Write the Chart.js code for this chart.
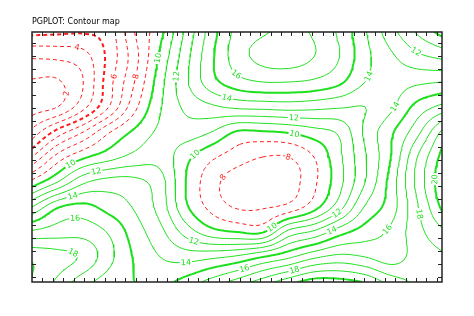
<!DOCTYPE html>
<html><head><meta charset="utf-8">
<script src="https://cdn.jsdelivr.net/npm/chart.js@4.4.1/dist/chart.umd.min.js"></script>
<style>html,body{margin:0;padding:0;background:#fff}</style>
</head><body>
<canvas id="c" width="474" height="316"></canvas>
<script>
// ---- data (estimated field values on a 17 x 11 grid, rows from top to bottom) ----
const chartTitle = 'PGPLOT: Contour map';
const row0  = [5.3, 5.2, 5.1, 5.5, 8.0, 9.7, 12.2, 14.5, 16.3, 16.9, 17.1, 16.9, 15.8, 14.1, 12.4, 10.9, 9.6];
const row1  = [3.1, 3.2, 3.6, 5.3, 7.6, 10.2, 12.6, 14.8, 16.5, 17.3, 17.5, 17.0, 16.0, 14.3, 13.2, 12.3, 11.8];
const row2  = [1.9, 1.9, 3.0, 5.6, 8.0, 10.6, 12.8, 14.6, 15.6, 16.0, 16.0, 15.8, 15.2, 14.0, 13.6, 13.8, 14.0];
const row3  = [1.6, 2.0, 3.7, 6.0, 8.7, 10.9, 12.2, 12.8, 13.2, 13.3, 13.4, 13.3, 13.1, 13.0, 13.8, 15.3, 16.3];
const row4  = [3.3, 5.4, 7.0, 8.9, 10.2, 11.2, 11.5, 11.0, 9.9, 9.9, 10.1, 10.6, 11.2, 13.2, 14.8, 16.6, 19.2];
const row5  = [6.0, 8.4, 9.8, 10.6, 11.3, 11.6, 10.3, 9.2, 8.5, 8.0, 8.0, 9.0, 10.8, 12.9, 15.0, 17.9, 20.3];
const row6  = [9.3, 11.0, 12.8, 13.4, 13.3, 12.4, 10.0, 8.4, 7.5, 7.3, 7.5, 8.8, 10.7, 13.0, 15.4, 18.2, 20.7];
const row7  = [13.0, 14.9, 15.3, 14.6, 13.9, 12.6, 10.2, 8.7, 7.9, 7.9, 8.3, 9.6, 11.6, 14.1, 15.5, 17.8, 20.2];
const row8  = [16.2, 16.5, 16.6, 15.9, 14.5, 13.3, 11.6, 10.4, 10.0, 9.9, 12.3, 13.2, 14.6, 15.5, 16.2, 17.6, 18.8];
const row9  = [18.8, 18.4, 17.8, 16.3, 14.9, 14.0, 13.6, 13.8, 14.2, 15.0, 15.8, 16.8, 17.3, 17.0, 16.5, 17.4, 17.8];
const row10 = [19.0, 17.8, 16.4, 15.5, 15.0, 14.7, 15.4, 16.4, 17.4, 18.5, 19.6, 20.5, 20.4, 19.9, 18.6, 17.8, 17.2];
const contourLevels = [1, 2, 3, 4, 5, 6, 7, 8, 9, 10, 11, 12, 13, 14, 15, 16, 17, 18, 19, 20, 21];
const labelledLevels = [2, 4, 6, 8, 10, 12, 14, 16, 18, 20];
const boldLevels = [5, 10, 15, 20];
const xTicks = [1,2,3,4,5,6,7,8,9,10,11,12,13,14,15,16,17,18,19,20,21,22,23,24,25,26,27,28,29,30,31,32,33,34,35,36,37,38,39];
const yTicks = [0,1,2,3,4,5,6,7,8,9,10,11,12,13,14,15,16,17,18];
const xRange = [0, 39.5];
const yRange = [-0.36, 18.87];

// ---- contouring ----
const rows = [row0,row1,row2,row3,row4,row5,row6,row7,row8,row9,row10];
const NX = row0.length, NY = rows.length, UP = 8;
function g(i, j) {
  if (i < 0) return 2*g(0,j) - g(1,j);
  if (i > NX-1) return 2*g(NX-1,j) - g(NX-2,j);
  if (j < 0) return 2*g(i,0) - g(i,1);
  if (j > NY-1) return 2*g(i,NY-1) - g(i,NY-2);
  return rows[j][i];
}
function cr(p0,p1,p2,p3,t){return 0.5*((2*p1)+(-p0+p2)*t+(2*p0-5*p1+4*p2-p3)*t*t+(-p0+3*p1-3*p2+p3)*t*t*t);}
function sample(u, v) {
  let i = Math.min(Math.floor(u), NX-2), j = Math.min(Math.floor(v), NY-2);
  const tu = u - i, tv = v - j;
  const col = [];
  for (let dj=-1; dj<=2; dj++) col.push(cr(g(i-1,j+dj),g(i,j+dj),g(i+1,j+dj),g(i+2,j+dj),tu));
  return cr(col[0],col[1],col[2],col[3],tv);
}
const FW = (NX-1)*UP+1, FH = (NY-1)*UP+1;
const F = [];
for (let b=0;b<FH;b++){ const r=[]; for(let a=0;a<FW;a++) r.push(sample(a/UP,b/UP)); F.push(r); }
const toX = a => xRange[0] + (xRange[1]-xRange[0]) * a/(FW-1);
const toY = b => yRange[1] - (yRange[1]-yRange[0]) * b/(FH-1);

function contour(lev) {
  const segs = [], map = new Map();
  const add = (e1,e2) => { const id=segs.length; segs.push([e1,e2]); for (const e of [e1,e2]) { if(!map.has(e.k)) map.set(e.k,[]); map.get(e.k).push(id);} };
  for (let b=0;b<FH-1;b++) for (let a=0;a<FW-1;a++) {
    const v0=F[b][a], v1=F[b][a+1], v2=F[b+1][a+1], v3=F[b+1][a];
    const idx=(v0>lev?8:0)|(v1>lev?4:0)|(v2>lev?2:0)|(v3>lev?1:0);
    if (idx===0||idx===15) continue;
    const T={k:'h'+a+','+b, a:a+(lev-v0)/(v1-v0), b:b};
    const R={k:'v'+(a+1)+','+b, a:a+1, b:b+(lev-v1)/(v2-v1)};
    const B={k:'h'+a+','+(b+1), a:a+(lev-v3)/(v2-v3), b:b+1};
    const L={k:'v'+a+','+b, a:a, b:b+(lev-v0)/(v3-v0)};
    const c=(v0+v1+v2+v3)/4>lev;
    switch(idx){
      case 1: add(L,B); break; case 2: add(B,R); break; case 3: add(L,R); break;
      case 4: add(T,R); break;
      case 5: if(c){add(T,L);add(B,R);}else{add(T,R);add(L,B);} break;
      case 6: add(T,B); break; case 7: add(T,L); break; case 8: add(T,L); break;
      case 9: add(T,B); break;
      case 10: if(c){add(T,R);add(L,B);}else{add(T,L);add(B,R);} break;
      case 11: add(T,R); break; case 12: add(L,R); break; case 13: add(R,B); break;
      case 14: add(L,B); break;
    }
  }
  const used = new Array(segs.length).fill(false), lines=[];
  for (let s=0;s<segs.length;s++){
    if (used[s]) continue; used[s]=true;
    const pts=[segs[s][0],segs[s][1]];
    for (const dir of [1,0]) {
      let cur = dir ? pts[pts.length-1] : pts[0];
      while (true) {
        const ids = map.get(cur.k)||[]; let nx=-1;
        for (const id of ids) if(!used[id]){nx=id;break;}
        if (nx<0) break; used[nx]=true;
        const sg=segs[nx]; const o = sg[0].k===cur.k ? sg[1] : sg[0];
        if (dir) pts.push(o); else pts.unshift(o);
        cur=o;
      }
    }
    lines.push(pts.map(p=>({x:toX(p.a), y:toY(p.b)})));
  }
  return lines;
}

const RED='#ff1a1a', GREEN='#1fe01f';
const datasets=[];
for (const lev of contourLevels) {
  for (const line of contour(lev)) {
    datasets.push({
      data: line, level: lev, showLine: true, pointRadius: 0, fill: false, tension: 0,
      borderColor: lev < 10 ? RED : GREEN,
      borderWidth: boldLevels.includes(lev) ? 2 : 1,
      borderDash: lev < 10 ? [4,3] : [],
      clip: 0
    });
  }
}

const decor = {
  id: 'decor',
  afterDatasetsDraw(chart) {
    const {ctx, chartArea: ca, scales:{x, y}} = chart;
    ctx.save();
    ctx.beginPath(); ctx.rect(ca.left, ca.top, ca.right-ca.left, ca.bottom-ca.top); ctx.clip();
    ctx.font = '8px "DejaVu Sans"';
    ctx.textAlign='center'; ctx.textBaseline='middle';
    chart.data.datasets.forEach(ds => {
      if (!labelledLevels.includes(ds.level)) return;
      const P = ds.data.map(p=>[x.getPixelForValue(p.x), y.getPixelForValue(p.y)]);
      const cum=[0];
      for (let k=1;k<P.length;k++) cum.push(cum[k-1]+Math.hypot(P[k][0]-P[k-1][0],P[k][1]-P[k-1][1]));
      const L=cum[cum.length-1];
      if (L<45) return;
      for (let s=Math.min(45, L/2); s<L-15; s+=150) {
        let k=1; while(k<P.length-1 && cum[k]<s) k++;
        const t=(s-cum[k-1])/((cum[k]-cum[k-1])||1);
        const px=P[k-1][0]+t*(P[k][0]-P[k-1][0]), py=P[k-1][1]+t*(P[k][1]-P[k-1][1]);
        if (px<ca.left+6||px>ca.right-6||py<ca.top+5||py>ca.bottom-5) continue;
        let k0=k-1, k1=k; while(k0>0 && s-cum[k0]<5) k0--; while(k1<P.length-1 && cum[k1]-s<5) k1++;
        let ang=Math.atan2(P[k1][1]-P[k0][1], P[k1][0]-P[k0][0]);
        if (ang>Math.PI/2) ang-=Math.PI; if (ang<-Math.PI/2) ang+=Math.PI;
        const txt=String(ds.level); const w=ctx.measureText(txt).width;
        ctx.save(); ctx.translate(px,py); ctx.rotate(ang);
        ctx.fillStyle='#fff'; ctx.fillRect(-w/2-1,-3,w+2,6);
        ctx.fillStyle=ds.borderColor; ctx.fillText(txt,0,0.5);
        ctx.restore();
      }
    });
    ctx.restore();
    ctx.save();
    ctx.strokeStyle='#222'; ctx.lineWidth=1;
    ctx.beginPath();
    for (const v of xTicks) { const px=Math.round(x.getPixelForValue(v))+0.5;
      ctx.moveTo(px,ca.bottom); ctx.lineTo(px,ca.bottom-4); ctx.moveTo(px,ca.top); ctx.lineTo(px,ca.top+4); }
    for (const v of yTicks) { const py=Math.round(y.getPixelForValue(v))+0.5;
      ctx.moveTo(ca.left,py); ctx.lineTo(ca.left+4,py); ctx.moveTo(ca.right,py); ctx.lineTo(ca.right-4,py); }
    ctx.stroke();
    ctx.lineWidth=1.5;
    ctx.strokeRect(ca.left, ca.top, ca.right-ca.left, ca.bottom-ca.top);
    ctx.fillStyle='#000'; ctx.font='8px "DejaVu Sans"'; ctx.textAlign='left'; ctx.textBaseline='alphabetic';
    ctx.fillText(chartTitle, ca.left, ca.top-8);
    ctx.restore();
  }
};

new Chart(document.getElementById('c'), {
  type: 'scatter',
  data: { datasets },
  options: {
    responsive: false, animation: false, devicePixelRatio: 1,
    layout: { padding: { left: 32, right: 32, top: 32, bottom: 34 } },
    plugins: { legend: { display: false }, tooltip: { enabled: false }, title: { display: false } },
    scales: {
      x: { type: 'linear', min: xRange[0], max: xRange[1], display: false },
      y: { type: 'linear', min: yRange[0], max: yRange[1], display: false }
    }
  },
  plugins: [decor]
});
</script>
</body></html>
